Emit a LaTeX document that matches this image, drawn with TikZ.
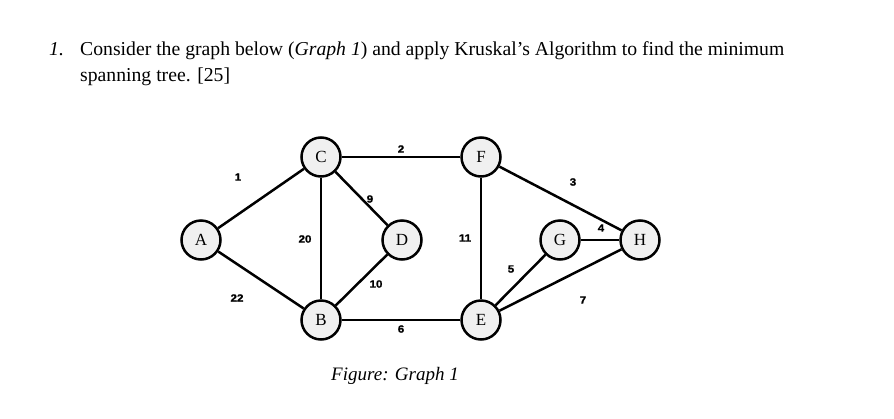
\documentclass[tikz,border=0pt]{standalone}
\usepackage{fontspec}
\setmainfont{Liberation Serif}
\setsansfont{Liberation Sans}
\newfontfamily\wfont{Liberation Sans}[BoldFeatures={FakeBold=1.5,FakeStretch=1.1}]
\begin{document}
\begin{tikzpicture}[x=1pt,y=-1pt,
  vtx/.style={circle,draw=black,line width=2.5pt,fill=gray!12,minimum size=39pt,inner sep=0pt,font=\fontsize{17}{17}\selectfont},
  edge/.style={line width=2.5pt,draw=black},
  wlab/.style={font=\wfont\bfseries\fontsize{10.5}{10.5}\selectfont,inner sep=0pt},
  txt/.style={font=\fontsize{19.7}{19.7}\selectfont,inner sep=0pt,anchor=base west}]
\useasboundingbox (0,0) rectangle (894,418);
% question text
\node[txt] (num) at (49,55) {\textit{1.}};
\node[txt] (l1) at (80,55) {Consider the graph below (\textit{Graph 1}) and apply Kruskal’s Algorithm to find the minimum};
\node[txt] (l2) at (80,81) {spanning tree. [25]};
% vertices
\node[vtx] (A) at (201,240) {A};
\node[vtx] (C) at (321,157) {C};
\node[vtx] (D) at (402,240) {D};
\node[vtx] (B) at (321,320) {B};
\node[vtx] (F) at (481,157) {F};
\node[vtx] (E) at (481,320) {E};
\node[vtx] (G) at (560,240) {G};
\node[vtx] (H) at (640,240) {H};
% edges
\draw[edge] (A) -- (C);
\draw[edge] (A) -- (B);
\draw[edge] (C) -- (B);
\draw[edge] (C) -- (D);
\draw[edge] (D) -- (B);
\draw[edge] (C) -- (F);
\draw[edge] (B) -- (E);
\draw[edge] (F) -- (E);
\draw[edge] (F) -- (H);
\draw[edge] (G) -- (H);
\draw[edge] (E) -- (G);
\draw[edge] (E) -- (H);
% weights
\node[wlab] (w1) at (238,177) {1};
\node[wlab] (w2) at (401,149) {2};
\node[wlab] (w9) at (370,199) {9};
\node[wlab] (w20) at (305,239) {20};
\node[wlab] (w10) at (376,284) {10};
\node[wlab] (w22) at (237,298) {22};
\node[wlab] (w6) at (401,329) {6};
\node[wlab] (w11) at (465,238) {11};
\node[wlab] (w3) at (573,182) {3};
\node[wlab] (w4) at (601,228) {4};
\node[wlab] (w5) at (511,269) {5};
\node[wlab] (w7) at (583,300) {7};
% caption
\node[font=\fontsize{19}{19}\selectfont\itshape,inner sep=0pt,anchor=base] (cap) at (395,380) {Figure: Graph 1};
\end{tikzpicture}
\end{document}
